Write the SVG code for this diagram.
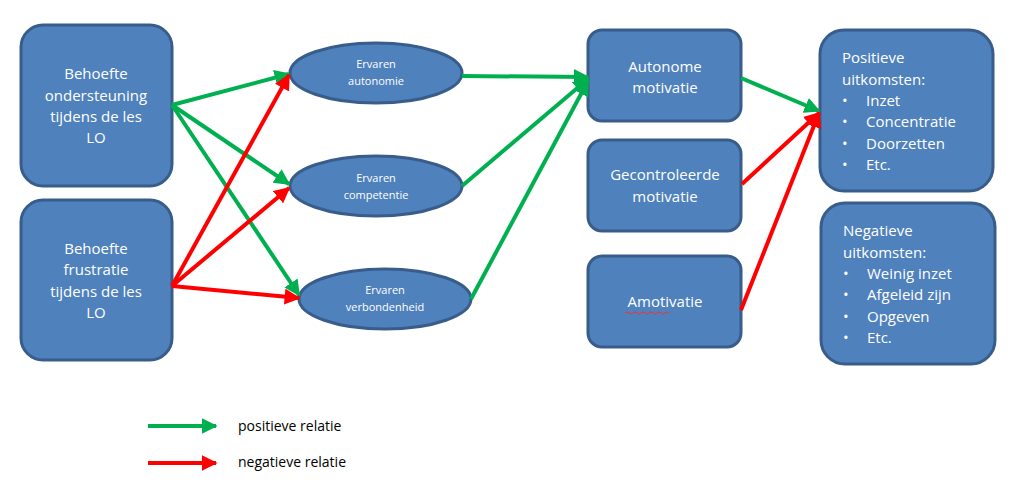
<svg xmlns="http://www.w3.org/2000/svg" width="1024" height="498" viewBox="0 0 1024 498">
<style>
.n{fill:#4f81bd;stroke:#385d8a;stroke-width:3}
.t{font-family:"Open Sans","Liberation Sans",sans-serif;fill:#fff;font-size:15px;text-anchor:middle}
.s{font-size:11px}
.l{font-family:"Open Sans","Liberation Sans",sans-serif;fill:#fff;font-size:15px}
.g{stroke:#00b050;stroke-width:4;fill:none;marker-end:url(#ag)}
.r{stroke:#ff0000;stroke-width:4;fill:none;marker-end:url(#ar)}
.lg{font-family:"Open Sans","Liberation Sans",sans-serif;font-size:14px;fill:#000}
</style>
<defs>
<marker id="ag" viewBox="0 0 10 10" refX="9" refY="5" markerWidth="4" markerHeight="4" orient="auto" markerUnits="strokeWidth"><path d="M0,0L10,5L0,10z" fill="#00b050"/></marker>
<marker id="ar" viewBox="0 0 10 10" refX="9" refY="5" markerWidth="4" markerHeight="4" orient="auto" markerUnits="strokeWidth"><path d="M0,0L10,5L0,10z" fill="#ff0000"/></marker>
</defs>
<rect width="1024" height="498" fill="#fff"/>
<g id="behoefte-ondersteuning"><rect class="n" x="21" y="25" width="151" height="161" rx="22"/><text class="t" x="96" y="79">Behoefte</text><text class="t" x="96" y="101">ondersteuning</text><text class="t" x="96" y="122">tijdens de les</text><text class="t" x="96" y="143">LO</text></g>
<g id="behoefte-frustratie"><rect class="n" x="21" y="200" width="151" height="160" rx="22"/><text class="t" x="96" y="254">Behoefte</text><text class="t" x="96" y="275">frustratie</text><text class="t" x="96" y="297">tijdens de les</text><text class="t" x="96" y="318">LO</text></g>
<g id="ervaren-autonomie"><ellipse class="n" cx="376" cy="73" rx="86" ry="30"/><text class="t s" x="376" y="68">Ervaren</text><text class="t s" x="376" y="85">autonomie</text></g>
<g id="ervaren-competentie"><ellipse class="n" cx="376" cy="186" rx="86" ry="30"/><text class="t s" x="376" y="182">Ervaren</text><text class="t s" x="376" y="199">competentie</text></g>
<g id="ervaren-verbondenheid"><ellipse class="n" cx="385" cy="299" rx="86" ry="30"/><text class="t s" x="385" y="294">Ervaren</text><text class="t s" x="385" y="311">verbondenheid</text></g>
<g id="autonome-motivatie"><rect class="n" x="588" y="30" width="153" height="91" rx="14"/><text class="t" x="665" y="72">Autonome</text><text class="t" x="665" y="93">motivatie</text></g>
<g id="gecontroleerde-motivatie"><rect class="n" x="588" y="140" width="153" height="91" rx="14"/><text class="t" x="665" y="180">Gecontroleerde</text><text class="t" x="665" y="202">motivatie</text></g>
<g id="amotivatie"><rect class="n" x="588" y="256" width="153" height="91" rx="14"/><text class="t" x="665" y="307">Amotivatie</text><path d="M625,313q2,-2 4,0t4,0t4,0t4,0t4,0t4,0t4,0t4,0t4,0t4,0t4,0" stroke="#e33" stroke-width="1" fill="none"/></g>
<g id="positieve-uitkomsten"><rect class="n" x="820" y="30" width="173" height="161" rx="24"/><text class="l" x="842" y="63">Positieve</text><text class="l" x="842" y="85">uitkomsten:</text><text class="l" x="842" y="106">•</text><text class="l" x="866" y="106">Inzet</text><text class="l" x="842" y="127">•</text><text class="l" x="866" y="127">Concentratie</text><text class="l" x="842" y="149">•</text><text class="l" x="866" y="149">Doorzetten</text><text class="l" x="842" y="170">•</text><text class="l" x="866" y="170">Etc.</text></g>
<g id="negatieve-uitkomsten"><rect class="n" x="821" y="203" width="174" height="161" rx="24"/><text class="l" x="843" y="236">Negatieve</text><text class="l" x="843" y="258">uitkomsten:</text><text class="l" x="843" y="279">•</text><text class="l" x="867" y="279">Weinig inzet</text><text class="l" x="843" y="300">•</text><text class="l" x="867" y="300">Afgeleid zijn</text><text class="l" x="843" y="322">•</text><text class="l" x="867" y="322">Opgeven</text><text class="l" x="843" y="343">•</text><text class="l" x="867" y="343">Etc.</text></g>
<g id="connectors">
<line class="g" x1="172" y1="105" x2="289" y2="74"/>
<line class="g" x1="172" y1="105" x2="289" y2="184"/>
<line class="g" x1="172" y1="105" x2="299" y2="295"/>
<line class="r" x1="172" y1="286" x2="289" y2="75"/>
<line class="r" x1="172" y1="286" x2="289" y2="188"/>
<line class="r" x1="172" y1="286" x2="299" y2="298"/>
<line class="g" x1="462" y1="76" x2="588" y2="77"/>
<line class="g" x1="462" y1="186" x2="588" y2="79"/>
<line class="g" x1="471" y1="299" x2="588" y2="81"/>
<line class="g" x1="741" y1="78" x2="819" y2="111"/>
<line class="r" x1="742" y1="184" x2="819" y2="113"/>
<line class="r" x1="741" y1="310" x2="819" y2="113"/>
</g>
<g id="legend">
<line class="g" x1="148" y1="426" x2="216" y2="426"/><text class="lg" x="238" y="431">positieve relatie</text>
<line class="r" x1="148" y1="463" x2="216" y2="463"/><text class="lg" x="238" y="467">negatieve relatie</text>
</g>
</svg>
